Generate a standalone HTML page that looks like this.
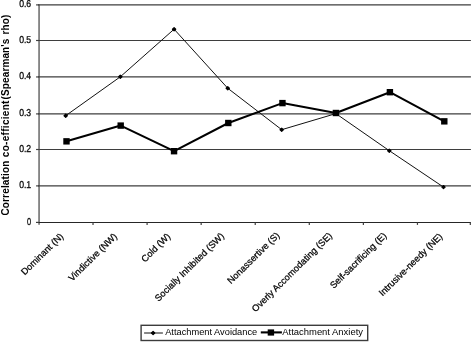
<!DOCTYPE html>
<html><head><meta charset="utf-8"><title>Chart</title>
<style>
html,body{margin:0;padding:0;background:#fff}
svg{display:block}
text{font-family:"Liberation Sans",Arial,sans-serif;fill:#000}
</style></head><body>
<svg width="472" height="342" viewBox="0 0 472 342">
<rect width="472" height="342" fill="#fff"/>

<line x1="38.050000000000004" y1="185.90" x2="470.9" y2="185.90" stroke="#3e3e3e" stroke-width="1.18"/>
<line x1="38.050000000000004" y1="149.50" x2="470.9" y2="149.50" stroke="#3e3e3e" stroke-width="1.18"/>
<line x1="38.050000000000004" y1="113.90" x2="470.9" y2="113.90" stroke="#3e3e3e" stroke-width="1.18"/>
<line x1="38.050000000000004" y1="76.95" x2="470.9" y2="76.95" stroke="#3e3e3e" stroke-width="1.18"/>
<line x1="38.050000000000004" y1="40.50" x2="470.9" y2="40.50" stroke="#3e3e3e" stroke-width="1.18"/>
<line x1="38.050000000000004" y1="4.90" x2="470.9" y2="4.90" stroke="#3e3e3e" stroke-width="1.18"/>
<line x1="39.050000000000004" y1="4.40" x2="39.050000000000004" y2="224.8" stroke="#3e3e3e" stroke-width="1.18"/>
<line x1="36.050000000000004" y1="222.45000000000002" x2="470.9" y2="222.45000000000002" stroke="#262626" stroke-width="1.15"/>
<line x1="36.050000000000004" y1="222.40" x2="38.95" y2="222.40" stroke="#3e3e3e" stroke-width="1.18"/>
<text x="31.2" y="224.90" font-size="10" text-anchor="end" textLength="4.1" lengthAdjust="spacingAndGlyphs" fill="#111" stroke="#111" stroke-width="0.3" style="text-rendering:geometricPrecision">0</text>
<line x1="36.050000000000004" y1="185.90" x2="38.95" y2="185.90" stroke="#3e3e3e" stroke-width="1.18"/>
<text x="31.2" y="188.40" font-size="10" text-anchor="end" textLength="12.05" lengthAdjust="spacingAndGlyphs" fill="#111" stroke="#111" stroke-width="0.3" style="text-rendering:geometricPrecision">0.1</text>
<line x1="36.050000000000004" y1="149.50" x2="38.95" y2="149.50" stroke="#3e3e3e" stroke-width="1.18"/>
<text x="31.2" y="152.00" font-size="10" text-anchor="end" textLength="12.05" lengthAdjust="spacingAndGlyphs" fill="#111" stroke="#111" stroke-width="0.3" style="text-rendering:geometricPrecision">0.2</text>
<line x1="36.050000000000004" y1="113.90" x2="38.95" y2="113.90" stroke="#3e3e3e" stroke-width="1.18"/>
<text x="31.2" y="116.40" font-size="10" text-anchor="end" textLength="12.05" lengthAdjust="spacingAndGlyphs" fill="#111" stroke="#111" stroke-width="0.3" style="text-rendering:geometricPrecision">0.3</text>
<line x1="36.050000000000004" y1="76.95" x2="38.95" y2="76.95" stroke="#3e3e3e" stroke-width="1.18"/>
<text x="31.2" y="79.45" font-size="10" text-anchor="end" textLength="12.05" lengthAdjust="spacingAndGlyphs" fill="#111" stroke="#111" stroke-width="0.3" style="text-rendering:geometricPrecision">0.4</text>
<line x1="36.050000000000004" y1="40.50" x2="38.95" y2="40.50" stroke="#3e3e3e" stroke-width="1.18"/>
<text x="31.2" y="43.00" font-size="10" text-anchor="end" textLength="12.05" lengthAdjust="spacingAndGlyphs" fill="#111" stroke="#111" stroke-width="0.3" style="text-rendering:geometricPrecision">0.5</text>
<line x1="36.050000000000004" y1="4.90" x2="38.95" y2="4.90" stroke="#3e3e3e" stroke-width="1.18"/>
<text x="31.2" y="7.40" font-size="10" text-anchor="end" textLength="12.05" lengthAdjust="spacingAndGlyphs" fill="#111" stroke="#111" stroke-width="0.3" style="text-rendering:geometricPrecision">0.6</text>
<line x1="93.02" y1="222.4" x2="93.02" y2="224.9" stroke="#3e3e3e" stroke-width="1.2"/>
<line x1="147.09" y1="222.4" x2="147.09" y2="224.9" stroke="#3e3e3e" stroke-width="1.2"/>
<line x1="201.16" y1="222.4" x2="201.16" y2="224.9" stroke="#3e3e3e" stroke-width="1.2"/>
<line x1="255.23" y1="222.4" x2="255.23" y2="224.9" stroke="#3e3e3e" stroke-width="1.2"/>
<line x1="309.30" y1="222.4" x2="309.30" y2="224.9" stroke="#3e3e3e" stroke-width="1.2"/>
<line x1="363.37" y1="222.4" x2="363.37" y2="224.9" stroke="#3e3e3e" stroke-width="1.2"/>
<line x1="417.44" y1="222.4" x2="417.44" y2="224.9" stroke="#3e3e3e" stroke-width="1.2"/>
<line x1="470.30" y1="222.4" x2="470.30" y2="224.9" stroke="#3e3e3e" stroke-width="1.2"/>
<text transform="translate(8.8,215.6) rotate(-90)" font-size="10" font-weight="bold" textLength="55.0" lengthAdjust="spacing">Correlation</text>
<text transform="translate(8.8,157.2) rotate(-90)" font-size="10" font-weight="bold" textLength="56.6" lengthAdjust="spacing">co-efficient</text>
<text transform="translate(8.8,99.4) rotate(-90)" font-size="10" font-weight="bold" textLength="60.8" lengthAdjust="spacing">(Spearman's</text>
<text transform="translate(8.8,34.5) rotate(-90)" font-size="10" font-weight="bold" textLength="19.8" lengthAdjust="spacing">rho)</text>
<polyline points="65.7,115.7 120.3,76.8 174.1,29.2 227.8,88.3 281.7,129.7 335.9,113.6 389.3,150.7 443.5,187.1" fill="none" stroke="#111" stroke-width="1"/>
<path d="M65.70 114.15L67.35 115.70L65.70 117.25L64.05 115.70Z" fill="#000" stroke="#000" stroke-width="1.2" stroke-linejoin="round"/>
<path d="M120.30 75.25L121.95 76.80L120.30 78.35L118.65 76.80Z" fill="#000" stroke="#000" stroke-width="1.2" stroke-linejoin="round"/>
<path d="M174.10 27.65L175.75 29.20L174.10 30.75L172.45 29.20Z" fill="#000" stroke="#000" stroke-width="1.2" stroke-linejoin="round"/>
<path d="M227.75 86.75L229.40 88.30L227.75 89.85L226.10 88.30Z" fill="#000" stroke="#000" stroke-width="1.2" stroke-linejoin="round"/>
<path d="M281.70 128.15L283.35 129.70L281.70 131.25L280.05 129.70Z" fill="#000" stroke="#000" stroke-width="1.2" stroke-linejoin="round"/>
<path d="M335.90 112.05L337.55 113.60L335.90 115.15L334.25 113.60Z" fill="#000" stroke="#000" stroke-width="1.2" stroke-linejoin="round"/>
<path d="M389.30 149.15L390.95 150.70L389.30 152.25L387.65 150.70Z" fill="#000" stroke="#000" stroke-width="1.2" stroke-linejoin="round"/>
<path d="M443.50 185.55L445.15 187.10L443.50 188.65L441.85 187.10Z" fill="#000" stroke="#000" stroke-width="1.2" stroke-linejoin="round"/>
<polyline points="66.5,141.3 120.7,125.6 174.1,151.2 228.3,123.0 282.4,103.1 335.9,113.0 389.9,92.2 444.3,121.3" fill="none" stroke="#000" stroke-width="2.05" stroke-linejoin="round"/>
<rect x="63.30" y="138.15" width="6.4" height="6.4" fill="#000"/>
<rect x="117.50" y="122.40" width="6.4" height="6.4" fill="#000"/>
<rect x="170.85" y="148.00" width="6.4" height="6.4" fill="#000"/>
<rect x="225.10" y="119.80" width="6.4" height="6.4" fill="#000"/>
<rect x="279.25" y="99.90" width="6.4" height="6.4" fill="#000"/>
<rect x="332.70" y="109.80" width="6.4" height="6.4" fill="#000"/>
<rect x="386.70" y="89.00" width="6.4" height="6.4" fill="#000"/>
<rect x="441.10" y="118.15" width="6.4" height="6.4" fill="#000"/>
<text transform="translate(63.9,237.0) rotate(-44.6)" font-size="9.25" text-anchor="end" stroke="#000" stroke-width="0.25">Dominant (N)</text>
<text transform="translate(117.6,237.0) rotate(-44.6)" font-size="9.25" text-anchor="end" stroke="#000" stroke-width="0.25">Vindictive (NW)</text>
<text transform="translate(170.9,237.0) rotate(-44.6)" font-size="9.25" text-anchor="end" stroke="#000" stroke-width="0.25">Cold (W)</text>
<text transform="translate(224.7,236.7) rotate(-44.6)" font-size="9.25" text-anchor="end" stroke="#000" stroke-width="0.25">Socially Inhibited (SW)</text>
<text transform="translate(280.1,236.0) rotate(-44.6)" font-size="9.25" text-anchor="end" stroke="#000" stroke-width="0.25">Nonassertive (S)</text>
<text transform="translate(332.8,236.3) rotate(-44.6)" font-size="9.25" text-anchor="end" stroke="#000" stroke-width="0.25">Overly Accomodating (SE)</text>
<text transform="translate(387.1,236.3) rotate(-44.6)" font-size="9.25" text-anchor="end" stroke="#000" stroke-width="0.25">Self-sacrificing (E)</text>
<text transform="translate(443.0,237.0) rotate(-44.6)" font-size="9.25" text-anchor="end" stroke="#000" stroke-width="0.25">Intrusive-needy (NE)</text>
<rect x="141.1" y="325.3" width="226.6" height="15.2" fill="#fff" stroke="#3c3c3c" stroke-width="1.4"/>
<line x1="144.1" y1="333.0" x2="162.9" y2="333.0" stroke="#111" stroke-width="1"/>
<path d="M153.10 331.45L154.75 333.00L153.10 334.55L151.45 333.00Z" fill="#000" stroke="#000" stroke-width="1.2" stroke-linejoin="round"/>
<text x="165.2" y="334.9" font-size="9.4" textLength="92" lengthAdjust="spacingAndGlyphs">Attachment Avoidance</text>
<line x1="260.8" y1="332.4" x2="281.9" y2="332.4" stroke="#000" stroke-width="2.1"/>
<rect x="267.7" y="329.4" width="6.4" height="6.2" fill="#000"/>
<text x="282.3" y="334.9" font-size="9.4" textLength="80.7" lengthAdjust="spacingAndGlyphs">Attachment Anxiety</text>
</svg></body></html>
